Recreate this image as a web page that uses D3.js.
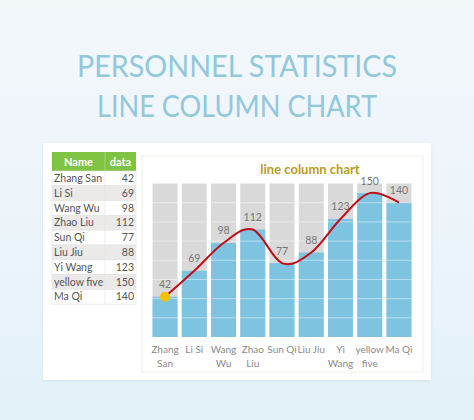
<!DOCTYPE html>
<html><head><meta charset="utf-8">
<script src="https://cdn.jsdelivr.net/npm/d3@7/dist/d3.min.js"></script>
<style>html,body{margin:0;padding:0;background:#e8f3f9;}svg{display:block;}</style>
</head><body>
<script>
const names = ["Zhang San","Li Si","Wang Wu","Zhao Liu","Sun Qi","Liu Jiu","Yi Wang","yellow five","Ma Qi"];
const axisLabels = [["Zhang","San"],["Li Si"],["Wang","Wu"],["Zhao","Liu"],["Sun Qi"],["Liu Jiu"],["Yi","Wang"],["yellow","five"],["Ma Qi"]];
const values = [42,69,98,112,77,88,123,150,140];
const bgMax = 160;
const gridTicks = [20,40,60,80,100,120,140];
const titleLines = ["PERSONNEL STATISTICS","LINE COLUMN CHART"];
const chartTitle = "line column chart";
const tableHeader = ["Name","data"];

const W=474,H=420;
const svg=d3.select("body").append("svg").attr("width",W).attr("height",H);
const defs=svg.append("defs");
const g1=defs.append("linearGradient").attr("id","bg").attr("x1",0).attr("y1",0).attr("x2",0).attr("y2",1);
g1.append("stop").attr("offset","0%").attr("stop-color","#f2f7fa");
g1.append("stop").attr("offset","40%").attr("stop-color","#eef5fa");
g1.append("stop").attr("offset","100%").attr("stop-color","#e3f1f9");
svg.append("rect").attr("width",W).attr("height",H).attr("fill","url(#bg)");
const f=defs.append("filter").attr("id","sh").attr("x","-5%").attr("y","-5%").attr("width","110%").attr("height","115%");
f.append("feDropShadow").attr("dx",0).attr("dy",1).attr("stdDeviation",1.5).attr("flood-color","#9fc3d6").attr("flood-opacity",0.35);

// Title
const font="'Source Sans Pro','Lato','Noto Sans',sans-serif";
svg.selectAll("text.title").data(titleLines).join("text")
  .attr("x",237).attr("y",(d,i)=>i?117:77).attr("text-anchor","middle")
  .attr("font-family",font).attr("font-weight",400).attr("font-size",30).attr("fill","#92c8dc")
  .attr("textLength",(d,i)=>i?280:320).attr("lengthAdjust","spacingAndGlyphs").text(d=>d);

// Card
svg.append("rect").attr("x",43).attr("y",143).attr("width",388).attr("height",237).attr("fill","#fff").attr("filter","url(#sh)");

// Table
const tx=52, nameW=53, dataW=31, hdrY=152, hdrH=19, rowH=14.8;
const tbl=svg.append("g");
tbl.append("rect").attr("x",tx).attr("y",hdrY).attr("width",nameW+dataW).attr("height",hdrH).attr("fill","#7fc342");
tbl.append("line").attr("x1",tx+nameW).attr("x2",tx+nameW).attr("y1",hdrY).attr("y2",hdrY+hdrH).attr("stroke","#a6d47a").attr("stroke-width",1);
tbl.append("text").attr("x",tx+nameW/2).attr("y",hdrY+13.5).attr("text-anchor","middle").attr("font-family",font).attr("font-weight","bold").attr("font-size",11).attr("fill","#fff").text(tableHeader[0]);
tbl.append("text").attr("x",tx+nameW+dataW/2).attr("y",hdrY+13.5).attr("text-anchor","middle").attr("font-family",font).attr("font-weight","bold").attr("font-size",11).attr("fill","#fff").text(tableHeader[1]);
const rows=tbl.selectAll("g.row").data(names).join("g").attr("transform",(d,i)=>`translate(0,${hdrY+hdrH+i*rowH})`);
rows.append("rect").attr("x",tx).attr("width",nameW+dataW).attr("height",rowH).attr("fill",(d,i)=>i%2?"#ece9e9":"#fff").attr("stroke","#e2e2e2").attr("stroke-width",0.6);
rows.append("line").attr("x1",tx+nameW).attr("x2",tx+nameW).attr("y1",0).attr("y2",rowH).attr("stroke","#e2e2e2").attr("stroke-width",0.6);
rows.append("text").attr("x",tx+2).attr("y",11).attr("font-family",font).attr("font-size",10.5).attr("fill","#555").text(d=>d);
rows.append("text").attr("x",tx+nameW+dataW-2).attr("y",11).attr("text-anchor","end").attr("font-family",font).attr("font-size",10.5).attr("fill","#555").text((d,i)=>values[i]);

// Chart panel
svg.append("rect").attr("x",142).attr("y",156).attr("width",281).attr("height",216).attr("fill","#fff").attr("stroke","#f3efe9").attr("stroke-width",1);
svg.append("text").attr("x",310).attr("y",174).attr("text-anchor","middle").attr("font-family",font).attr("font-weight","bold").attr("font-size",13).attr("fill","#b89d1e").text(chartTitle);

const x=d3.scaleBand().domain(names).range([150.5,413.5]).paddingInner(0.145).paddingOuter(0.07);
const y=d3.scaleLinear().domain([0,bgMax]).range([337,183.5]);
const bw=x.bandwidth();
const cg=svg.append("g");
cg.selectAll("rect.bgc").data(names).join("rect").attr("x",d=>x(d)).attr("y",y(bgMax)).attr("width",bw).attr("height",y(0)-y(bgMax)).attr("fill","#d9d9d9");
cg.selectAll("rect.bar").data(values).join("rect").attr("x",(d,i)=>x(names[i])).attr("y",d=>y(d)).attr("width",bw).attr("height",d=>y(0)-y(d)).attr("fill","#7ec4e0");
// gridlines through columns
cg.selectAll("line.grid").data(gridTicks).join("line").attr("x1",x.range()[0]).attr("x2",x.range()[1]).attr("y1",d=>y(d)).attr("y2",d=>y(d)).attr("stroke","#fff").attr("stroke-opacity",0.45).attr("stroke-width",1);
// value labels
cg.selectAll("text.val").data(values).join("text").attr("x",(d,i)=>x(names[i])+bw/2).attr("y",d=>y(d)-8.5).attr("text-anchor","middle").attr("font-family",font).attr("font-size",10.5).attr("fill","#777").text(d=>d);
// line
const line=d3.line().x((d,i)=>x(names[i])+bw/2).y(d=>y(d)).curve(d3.curveCardinal.tension(0));
cg.append("path").datum(values).attr("d",line).attr("fill","none").attr("stroke","#c00d17").attr("stroke-width",2);
cg.append("circle").attr("cx",x(names[0])+bw/2).attr("cy",y(values[0])).attr("r",5).attr("fill","#f5bf0a");
// axis labels
const al=cg.selectAll("text.ax").data(axisLabels).join("text").attr("text-anchor","middle").attr("font-family",font).attr("font-size",10).attr("fill","#8a8a8a");
al.each(function(d,i){
  const t=d3.select(this);
  d.forEach((s,j)=>t.append("tspan").attr("x",x(names[i])+bw/2).attr("y",353+j*14).text(s));
});
</script>
</body></html>
